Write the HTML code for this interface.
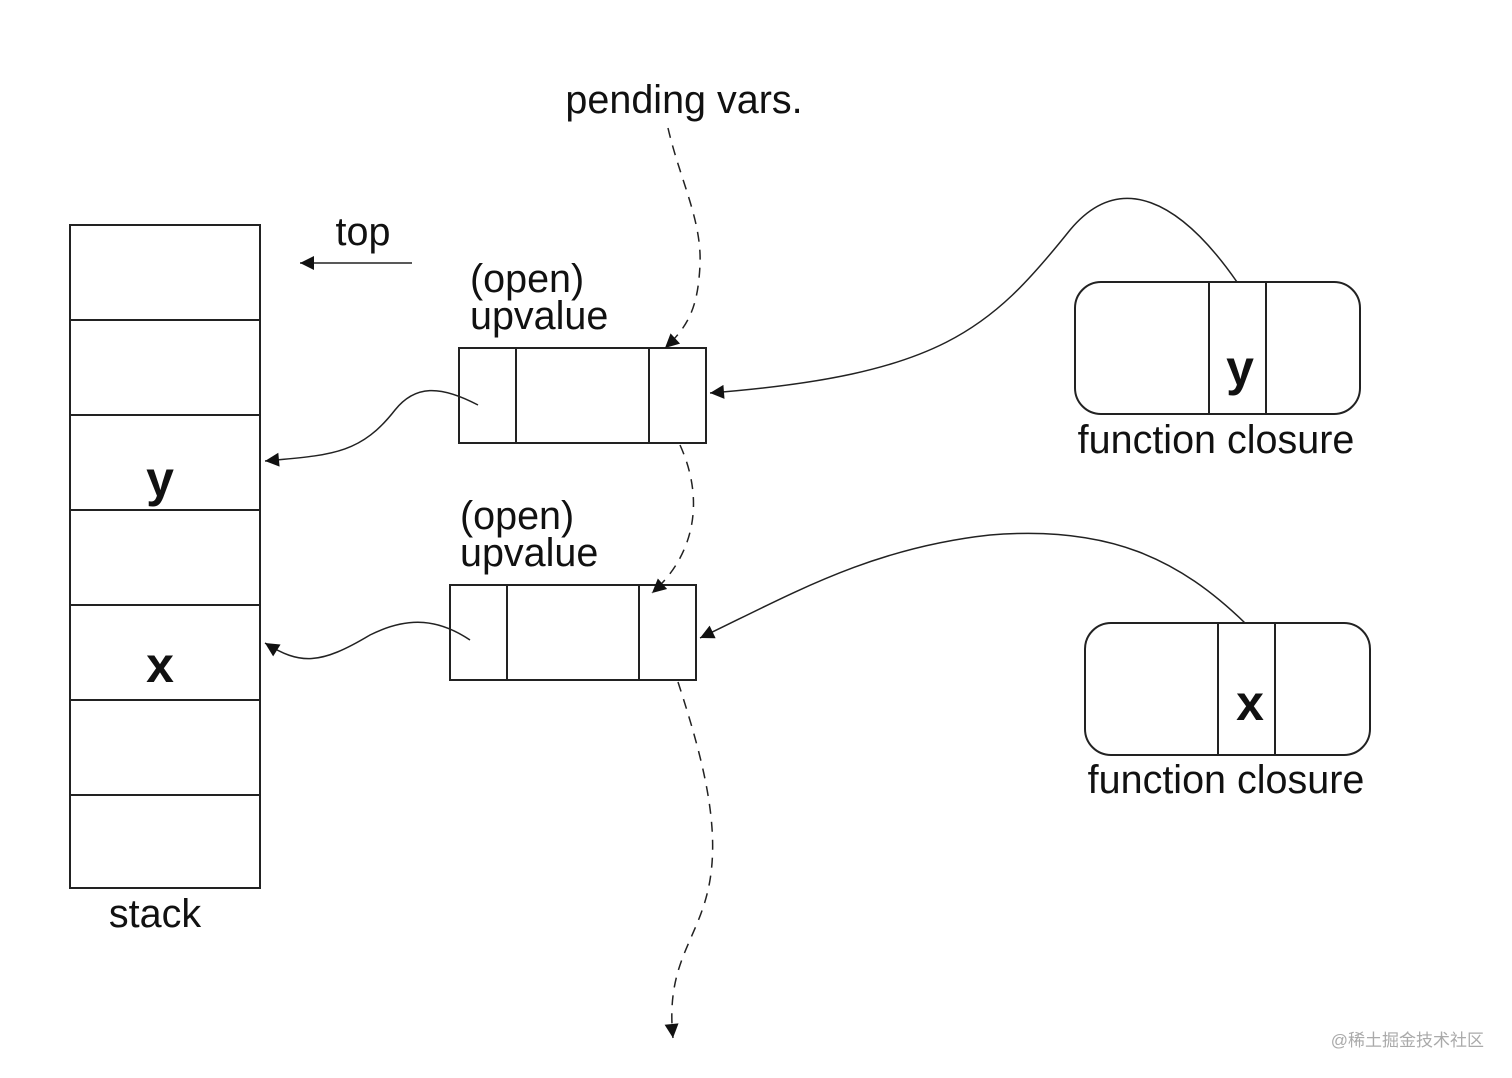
<!DOCTYPE html>
<html><head><meta charset="utf-8"><style>
html,body{margin:0;padding:0;background:#fff;}
svg{display:block;}
text{font-family:"Liberation Sans",sans-serif;fill:#111;}
</style></head><body>
<svg width="1512" height="1078" viewBox="0 0 1512 1078" xmlns="http://www.w3.org/2000/svg">
<defs>
<marker id="ahb" viewBox="0 0 10 10" refX="10" refY="5" markerWidth="26" markerHeight="14" markerUnits="userSpaceOnUse" orient="auto"><path d="M0,0 L10,5 L0,10 z" fill="#111"/></marker>
</defs>
<g fill="none" stroke="#222" stroke-width="2">
<rect x="70" y="225" width="190" height="663"/>
<line x1="70" y1="320" x2="260" y2="320"/>
<line x1="70" y1="415" x2="260" y2="415"/>
<line x1="70" y1="510" x2="260" y2="510"/>
<line x1="70" y1="605" x2="260" y2="605"/>
<line x1="70" y1="700" x2="260" y2="700"/>
<line x1="70" y1="795" x2="260" y2="795"/>
<rect x="459" y="348" width="247" height="95"/>
<line x1="516" y1="348" x2="516" y2="443"/>
<line x1="649" y1="348" x2="649" y2="443"/>
<rect x="450" y="585" width="246" height="95"/>
<line x1="507" y1="585" x2="507" y2="680"/>
<line x1="639" y1="585" x2="639" y2="680"/>
<rect x="1075" y="282" width="285" height="132" rx="26"/>
<line x1="1209" y1="282" x2="1209" y2="414"/>
<line x1="1266" y1="282" x2="1266" y2="414"/>
<rect x="1085" y="623" width="285" height="132" rx="26"/>
<line x1="1218" y1="623" x2="1218" y2="755"/>
<line x1="1275" y1="623" x2="1275" y2="755"/>
</g>
<g fill="none" stroke="#222" stroke-width="1.5">
<line x1="412" y1="263" x2="300" y2="263" marker-end="url(#ahb)"/>
<path d="M1237,282 C1180,200 1120,170 1070,230 C990,330 940,375 710,393" marker-end="url(#ahb)"/>
<path d="M1245,623 C1180,560 1110,525 990,535 C870,548 790,595 700,638" marker-end="url(#ahb)"/>
<path d="M478,405 C440,385 415,385 395,410 C360,455 330,455 265,461" marker-end="url(#ahb)"/>
<path d="M470,640 C440,620 410,615 370,635 C320,665 300,665 265,643" marker-end="url(#ahb)"/>
<g stroke-dasharray="10,8">
<path d="M668,128 C680,180 702,220 700,265 C698,305 690,325 665,348" marker-end="url(#ahb)"/>
<path d="M680,445 C705,500 695,555 652,593" marker-end="url(#ahb)"/>
<path d="M678,682 C700,750 720,820 710,880 C700,940 665,960 673,1038" marker-end="url(#ahb)"/>
</g>
</g>
<text x="160" y="496" font-size="50" font-weight="bold" text-anchor="middle">y</text>
<text x="160" y="682" font-size="50" font-weight="bold" text-anchor="middle">x</text>
<text x="155" y="927" font-size="39.5" text-anchor="middle">stack</text>
<text x="363" y="245" font-size="39.5" text-anchor="middle">top</text>
<text x="684" y="113" font-size="39.5" text-anchor="middle">pending vars.</text>
<text x="470" y="292" font-size="39.5">(open)</text>
<text x="470" y="329" font-size="39.5">upvalue</text>
<text x="460" y="529" font-size="39.5">(open)</text>
<text x="460" y="566" font-size="39.5">upvalue</text>
<text x="1240" y="385" font-size="50" font-weight="bold" text-anchor="middle">y</text>
<text x="1250" y="720" font-size="50" font-weight="bold" text-anchor="middle">x</text>
<text x="1216" y="453" font-size="39.5" text-anchor="middle">function closure</text>
<text x="1226" y="793" font-size="39.5" text-anchor="middle">function closure</text>
<text x="1484" y="1046" font-size="17" text-anchor="end" style="fill:#aaa;font-family:'Liberation Sans','Noto Sans CJK SC',sans-serif">@稀土掘金技术社区</text>
</svg>
</body></html>
